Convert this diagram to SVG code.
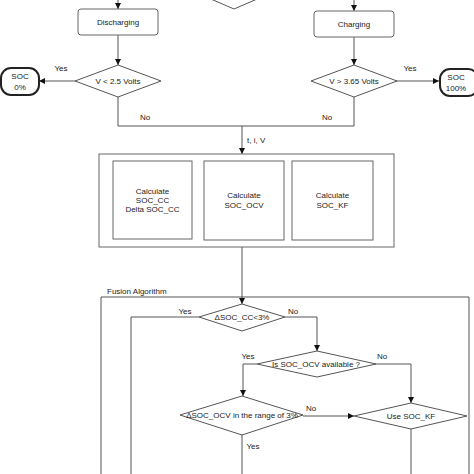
<svg xmlns="http://www.w3.org/2000/svg" width="474" height="474" viewBox="0 0 474 474">
<defs>
<marker id="ah" viewBox="0 0 10 10" refX="10" refY="5" markerWidth="6" markerHeight="6" orient="auto" markerUnits="userSpaceOnUse">
<path d="M0,0 L10,5 L0,10 z" fill="#111"/>
</marker>
<style>
.bx{fill:#fff;stroke:#666;stroke-width:1}
.dm{fill:#fff;stroke:#555;stroke-width:1}
.tm{fill:#fff;stroke:#222;stroke-width:2}
.ln{fill:none;stroke:#555;stroke-width:1}
.ar{fill:none;stroke:#555;stroke-width:1;marker-end:url(#ah)}
text{font-family:"Liberation Sans",Arial,sans-serif;font-size:8px;fill:#222}
.c{text-anchor:middle}
</style>
</defs>
<rect width="474" height="474" fill="#fff"/>

<g id="connectors">
<path class="ar" d="M118,0 V9"/>
<path class="ar" d="M354,0 V11"/>
<path class="ar" d="M118,35 V65"/>
<path class="ar" d="M354,37 V65"/>
<path class="ar" d="M75,81 H39"/>
<path class="ar" d="M396,81 H439"/>
<path class="ln" d="M118,97 V126 H354 V97"/>
<path class="ar" d="M242,126 V154"/>
<path class="ar" d="M242,247 V304"/>
<path class="ln" d="M199,317 H131 V474"/>
<path class="ar" d="M285,317 H317 V351"/>
<path class="ar" d="M257,364 H243 V396"/>
<path class="ar" d="M375,364 H411 V403"/>
<path class="ar" d="M303,416 H354"/>
<path class="ln" d="M242,435 V474"/>
<path class="ln" d="M411,429 V474"/>
</g>

<g id="top-decision">
<polygon class="dm" points="190,-10 234,9 278,-10"/>
</g>

<g id="discharging">
<rect class="bx" x="78" y="9" width="80" height="26" rx="3"/>
<text class="c" x="118" y="25">Discharging</text>
</g>
<g id="charging">
<rect class="bx" x="314" y="11" width="80" height="26" rx="3"/>
<text class="c" x="354" y="27">Charging</text>
</g>

<g id="v-low">
<polygon class="dm" points="75,81 118,65 161,81 118,97"/>
<text class="c" x="118" y="84">V &lt; 2.5 Volts</text>
</g>
<g id="v-high">
<polygon class="dm" points="311,81 354,65 397,81 354,97"/>
<text class="c" x="354" y="84">V &gt; 3.65 Volts</text>
</g>

<g id="soc0">
<rect class="tm" x="1" y="68" width="38" height="27" rx="10"/>
<text class="c" x="20" y="79">SOC</text>
<text class="c" x="20" y="90">0%</text>
</g>
<g id="soc100">
<rect class="tm" x="440" y="69" width="38" height="27" rx="10"/>
<text class="c" x="456" y="80">SOC</text>
<text class="c" x="456" y="91">100%</text>
</g>

<g id="labels-top">
<text class="c" x="61" y="71">Yes</text>
<text class="c" x="410" y="71">Yes</text>
<text class="c" x="145" y="120">No</text>
<text class="c" x="327" y="120">No</text>
<text x="247" y="143">t, i, V</text>
</g>

<g id="calc-group">
<rect class="bx" x="99" y="154" width="295" height="93"/>
</g>
<g id="calc-cc">
<rect class="bx" x="113" y="161" width="79" height="78"/>
<text class="c" x="152.5" y="194">Calculate</text>
<text class="c" x="152.5" y="203">SOC_CC</text>
<text class="c" x="152.5" y="212">Delta SOC_CC</text>
</g>
<g id="calc-ocv">
<rect class="bx" x="204" y="161" width="80" height="79"/>
<text class="c" x="244" y="198">Calculate</text>
<text class="c" x="244" y="208">SOC_OCV</text>
</g>
<g id="calc-kf">
<rect class="bx" x="292" y="161" width="81" height="79"/>
<text class="c" x="332.5" y="198">Calculate</text>
<text class="c" x="332.5" y="208">SOC_KF</text>
</g>

<g id="fusion">
<path class="ln" d="M101,480 V297 H469 V480"/>
<text x="107" y="294">Fusion Algorithm</text>
</g>

<g id="d-cc">
<polygon class="dm" points="199,317 242,304 285,317 242,331"/>
<text class="c" x="242" y="320">ΔSOC_CC&lt;3%</text>
</g>
<g id="d-ocv-avail">
<polygon class="dm" points="257,364 317,351 376,364 317,377"/>
<text class="c" x="316" y="367">Is SOC_OCV available ?</text>
</g>
<g id="d-ocv-range">
<polygon class="dm" points="180,415 242,396 303,415 242,435"/>
<text class="c" x="242" y="418">ΔSOC_OCV in the range of 3%</text>
</g>
<g id="d-kf">
<polygon class="dm" points="354,416 411,403 467,416 411,429"/>
<text class="c" x="411" y="419">Use SOC_KF</text>
</g>

<g id="labels-fusion">
<text class="c" x="185" y="314">Yes</text>
<text class="c" x="293" y="314">No</text>
<text class="c" x="248" y="359">Yes</text>
<text class="c" x="382" y="359">No</text>
<text class="c" x="311" y="411">No</text>
<text class="c" x="253" y="449">Yes</text>
</g>
</svg>
